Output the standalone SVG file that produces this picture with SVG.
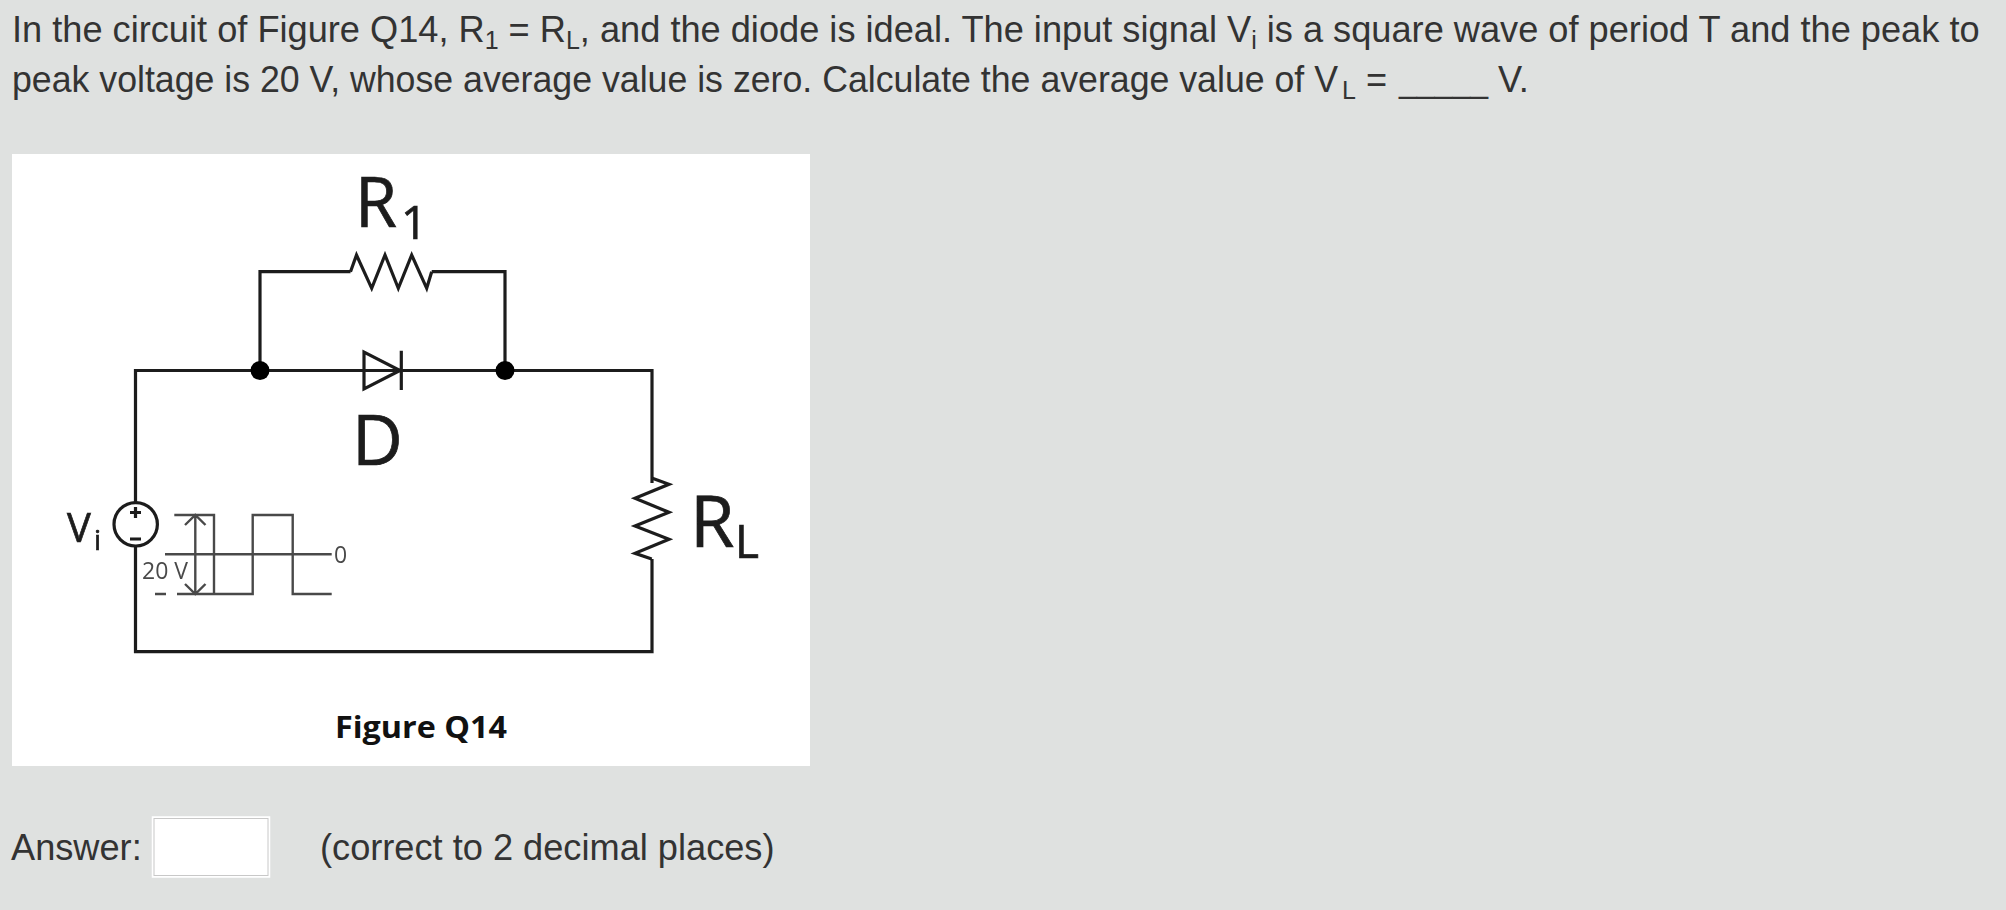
<svg xmlns="http://www.w3.org/2000/svg" width="2006" height="910" viewBox="0 0 2006 910">
<defs><filter id="soft" x="-5%" y="-5%" width="110%" height="110%"><feGaussianBlur stdDeviation="0.6"/></filter></defs>
<style>
.q{font-family:"Liberation Sans",Arial,sans-serif;font-size:36.2px;fill:#333}
.s{font-size:25px}
.c{font-family:"Open Sans","Noto Sans",sans-serif;fill:#1c1c1c;stroke:#1c1c1c;stroke-width:.7}
.w{fill:none;stroke:#1c1c1c;stroke-width:3.2}
.g{fill:none;stroke:#4a4a4a;stroke-width:2.4}
.d{fill:#000}
.l{fill:#4a4a4a;stroke:none}
</style>
<rect width="2006" height="910" fill="#dfe1e0"/>
<g id="question">
<text class="q" x="12" y="42">In the circuit of Figure Q14, R<tspan class="s" dy="7">1</tspan><tspan dy="-7"> = R</tspan><tspan class="s" dy="7">L</tspan><tspan dy="-7">, and the diode is ideal. The input signal V</tspan><tspan class="s" dy="7">i</tspan><tspan dy="-7"> is a square wave of period T and the peak to</tspan></text>
<text class="q" x="12" y="92" textLength="1326" lengthAdjust="spacingAndGlyphs">peak voltage is 20 V, whose average value is zero. Calculate the average value of V</text>
<text class="q s" x="1342" y="99">L</text>
<text class="q" x="1366" y="92">=</text>
<text class="q" x="1399" y="92" textLength="89" lengthAdjust="spacingAndGlyphs">_____</text>
<text class="q" x="1498" y="92">V.</text>
</g>
<rect id="figure" x="12" y="154" width="798" height="612" fill="#fff"/>
<g id="connectors" filter="url(#soft)">
<path class="w" d="M135.5 503V370.5H652V483"/>
<path class="w" d="M135.5 545V651.7H652V559"/>
<path class="w" d="M260 370.5V271.7H350.5M431.7 271.7H505V370.5"/>
<path class="w" d="M260 370.5H364M401 370.5H505"/>
</g>
<g id="R1" filter="url(#soft)">
<path class="w" d="M350.5 271.7L356.5 255L371.7 288.3L385 255L398.3 288.3L411.7 255L426.7 288.3L431.7 271.7"/>
<text class="c" x="355" y="226.7" font-size="70" textLength="42" lengthAdjust="spacingAndGlyphs">R</text>
<text class="c" x="401" y="239" font-size="46">1</text>
</g>
<g id="D" filter="url(#soft)">
<path class="w" d="M364 352V389L400 370.5ZM401.3 350.7V390"/>
<circle class="d" cx="260" cy="370.5" r="9.5"/>
<circle class="d" cx="505" cy="370.5" r="9.5"/>
<text class="c" x="352" y="465" font-size="70">D</text>
</g>
<g id="RL" filter="url(#soft)">
<path class="w" d="M651.7 478L669 484.3L635 498.3L669 512.3L635 526L669 539.3L635 553.3L651.7 559"/>
<text class="c" x="690" y="546.7" font-size="72">R</text>
<text class="c" x="735" y="558" font-size="46">L</text>
</g>
<g id="Vi" filter="url(#soft)">
<circle class="w" cx="135.7" cy="524.3" r="21.7"/>
<path class="w" d="M130 512.5H141M135.5 507V518M130 539H141" stroke-width="2.5"/>
<text class="c" x="67" y="541.7" font-size="40">V</text>
<text class="c" x="94" y="550" font-size="28">i</text>
</g>
<g id="waveform" filter="url(#soft)">
<path class="g" d="M174.3 515H214V594H252.7V515H292.7V594H331.7M165 554.3H331.7M155 594H166M177 594H214"/>
<path class="g" d="M195.3 515V594M185 525L195.3 515L205.5 525M185 584L195.3 594L205.5 584" stroke-width="2"/>
<text class="c l" x="142" y="579" font-size="23">20 V</text>
<text class="c l" x="334" y="563" font-size="23">0</text>
</g>
<text id="caption" class="c" x="335" y="738" font-size="31" font-weight="700" textLength="172" lengthAdjust="spacingAndGlyphs" style="stroke:none;fill:#111">Figure Q14</text>
<g id="answer">
<text class="q" x="11" y="860">Answer:</text>
<rect x="152.5" y="817" width="117" height="60" fill="#fff" stroke="#fff" stroke-width="1.5"/>
<rect x="154" y="818.5" width="114" height="57" fill="#fff" stroke="#c8c8c8" stroke-width="1"/>
<text class="q" x="320" y="860">(correct to 2 decimal places)</text>
</g>
</svg>
